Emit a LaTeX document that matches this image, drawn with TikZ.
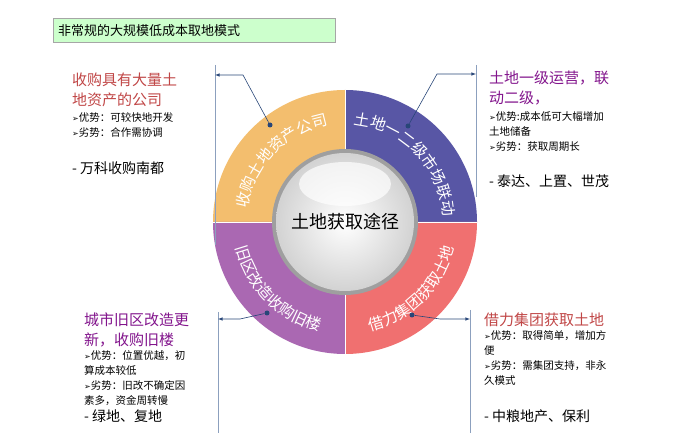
\documentclass[tikz,border=0pt]{standalone}
\usepackage{fontspec}
\setmainfont{Noto Sans CJK SC}
\newfontfamily\symfont{DejaVu Sans}
\usetikzlibrary{positioning,decorations.text,shadings}
\definecolor{ringorange}{RGB}{243,190,110}
\definecolor{ringblue}{RGB}{88,86,165}
\definecolor{ringpurple}{RGB}{170,104,178}
\definecolor{ringred}{RGB}{240,112,112}
\definecolor{headred}{RGB}{192,70,70}
\definecolor{headpurple}{RGB}{130,20,140}
\definecolor{guide}{RGB}{140,160,190}
\definecolor{pointer}{RGB}{40,70,120}
\newcommand{\bul}{{\symfont\fontsize{8}{8}\selectfont ➢}}
\tikzset{
  heading/.style={anchor=north west, inner sep=0pt, align=left, font=\fontsize{15}{20}\selectfont},
  notes/.style={anchor=north west, inner sep=0pt, align=left, font=\fontsize{10.5}{15}\selectfont},
  example/.style={anchor=north west, inner sep=0pt, font=\fontsize{14}{18}\selectfont},
  guideline/.style={draw=guide, line width=1pt},
  pointerline/.style={draw=pointer, line width=0.6pt, -latex},
  dot/.style={circle, fill=pointer, inner sep=0pt, minimum size=5pt},
  arclabel/.style={decoration={text along path, text align=center,
    text={|\color{white}\fontsize{15.5}{15.5}\selectfont|#1}}, decorate}
}
\begin{document}
\begin{tikzpicture}[x=1pt,y=1pt]
\useasboundingbox (0,0) rectangle (676,433);
% title
\node[draw=gray!70, fill={rgb,255:red,204;green,255;blue,204}, minimum width=282pt, minimum height=24pt,
  anchor=north west, inner sep=0pt, text width=272pt, align=left, font=\fontsize{13}{13}\selectfont]
  (title) at (53,415) {非常规的大规模低成本取地模式};
% ring
\coordinate (c) at (345,211);
\fill[ringorange] (c) -- ++(180:132) arc (180:90:132) -- cycle;
\fill[ringblue] (c) -- ++(90:132) arc (90:0:132) -- cycle;
\fill[ringred] (c) -- ++(0:132) arc (0:-90:132) -- cycle;
\fill[ringpurple] (c) -- ++(-90:132) arc (-90:-180:132) -- cycle;
\draw[white, line width=0.6pt] (c) ++(0:132) -- ++(180:264) (c) ++(90:132) -- ++(-90:264);
\fill[gray!75] (c) circle (73);
\shade[inner color=white, outer color=gray!35] (c) circle (69);
\fill[white, opacity=0.7] ([yshift=38]c) ellipse (46 and 22);
\node[font=\fontsize{18}{18}\selectfont] (core) at (c) {土地获取途径};
% arc texts
\path[arclabel={收购土地资产公司}] (c) ++(196:98) arc (196:76:98);
\path[arclabel={土地一二级市场联动}] (c) ++(104:98) arc (104:-16:98);
\path[arclabel={借力集团获取土地}] (c) ++(254:112) arc (254:376:112);
\path[arclabel={旧区改造收购旧楼}] (c) ++(164:112) arc (164:286:112);
% guides
\draw[guideline] (215,368) -- (215,188);
\draw[guideline] (476,368) -- (476,236);
\draw[guideline] (218,121) -- (218,0);
\draw[guideline] (470,123) -- (470,0);
\node[dot] (dul) at (270,308) {};
\node[dot] (dur) at (408,307) {};
\node[dot] (dll) at (267,120) {};
\node[dot] (dlr) at (412,118) {};
\coordinate (aul) at (215,358);
\coordinate (aur) at (476,359);
\coordinate (all) at (218,114);
\coordinate (alr) at (470,114);
\draw[pointerline] (dul) -- (243,358) -- (aul);
\draw[pointerline] (dur) -- (437,359) -- (aur);
\draw[pointerline] (dll) -- (240,114) -- (all);
\draw[pointerline] (dlr) -- (440,114) -- (alr);
% upper left
\node[heading, text=headred] (ulhead) at (72,360) {收购具有大量土\\地资产的公司};
\node[notes] (ulnotes) at (72,321) {\bul 优势：可较快地开发\\\bul 劣势：合作需协调};
\node[example] (ulcase) at (72,271) {- 万科收购南都};
% upper right
\node[heading, text=headpurple] (urhead) at (489,362) {土地一级运营，联\\动二级，};
\node[notes] (urnotes) at (489,322) {\bul 优势:成本低可大幅增加\\土地储备\\\bul 劣势：获取周期长};
\node[example] (urcase) at (489,258) {- 泰达、上置、世茂};
% lower left
\node[heading, text=headpurple] (llhead) at (84,120) {城市旧区改造更\\新，收购旧楼};
\node[notes] (llnotes) at (84,83) {\bul 优势：位置优越，初\\算成本较低\\\bul 劣势：旧改不确定因\\素多，资金周转慢};
\node[example] (llcase) at (84,23) {- 绿地、复地};
% lower right
\node[heading, text=headred] (lrhead) at (484,120) {借力集团获取土地};
\node[notes] (lrnotes) at (484,103) {\bul 优势：取得简单，增加方\\便\\\bul 劣势：需集团支持，非永\\久模式};
\node[example] (lrcase) at (484,24) {- 中粮地产、保利};
\end{tikzpicture}
\end{document}
